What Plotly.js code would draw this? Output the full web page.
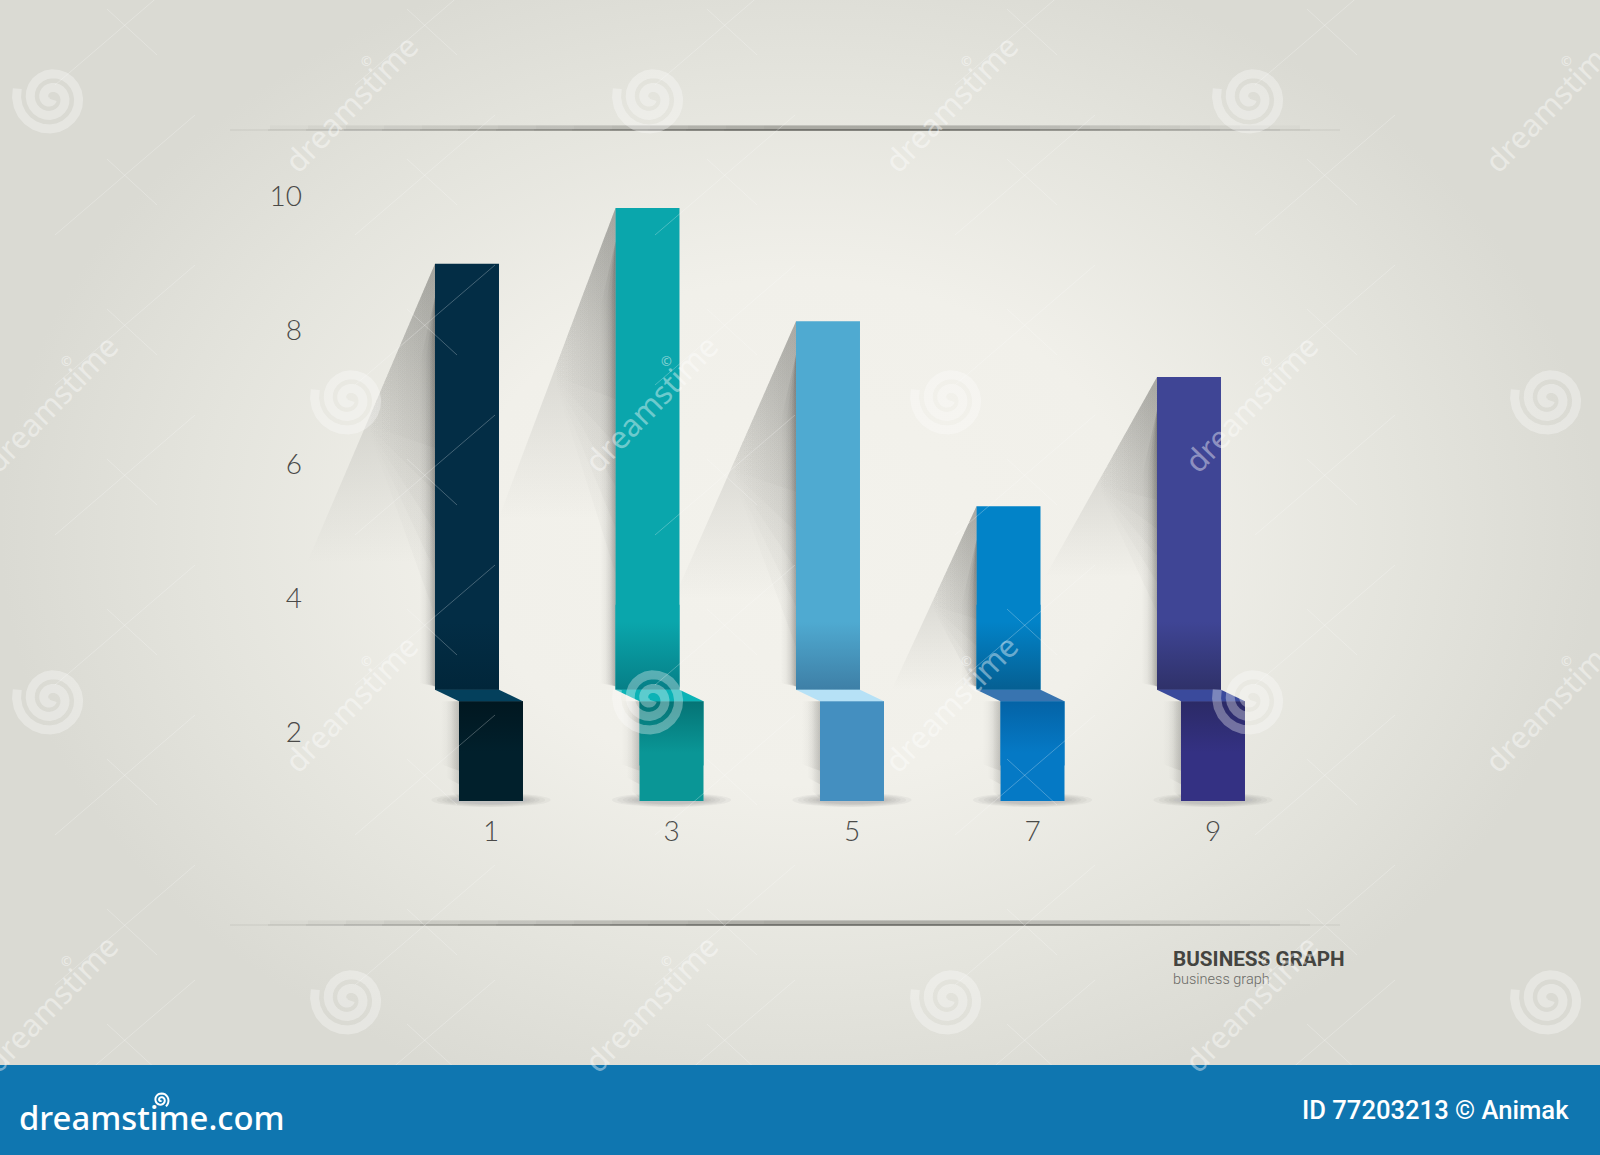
<!DOCTYPE html>
<html><head><meta charset="utf-8">
<script src="https://cdn.plot.ly/plotly-3.0.1.min.js"></script>
<style>
html,body{margin:0;padding:0;width:1600px;height:1155px;overflow:hidden;
background:#dbdbd4 radial-gradient(ellipse 800px 600px at 50% 46%,#f3f2ec 0%,#f1f0ea 42%,#e4e4dd 75%,#dadad3 100%);}
#chart{width:1600px;height:1155px;}
</style></head><body><div id="chart"></div>
<script>
// ---- chart values ----
const categories   = [1, 3, 5, 7, 9];
const barTops      = [8.99, 9.82, 8.13, 5.37, 7.30];
const foldHigh     = 2.63;   // where the upper strip ends
const foldLow      = 2.46;   // where the lower strip starts
const axisBase     = 0.97;
const xTickLabels  = ['1', '3', '5', '7', '9'];
const yTickValues  = [2, 4, 6, 8, 10];
const shadowReach  = [1.27, 1.16, 1.21, 0.84, 1.11];
const shadowDrop   = [4.00, 4.15, 3.70, 2.45, 2.67];
// ---- colours ----
const upperColors  = ['#032d45', '#0aa6ac', '#4faad1', '#0283c8', '#3f4595'];
const upperDark    = ['#01263a', '#067f87', '#3e7fa6', '#055f92', '#2f3169'];
const foldColors   = ['#04405c', '#0bb3b6', '#b6e1f6', '#3874b0', '#3a4a9c'];
const lowerColors  = ['#01202c', '#0a9696', '#448fc0', '#0579c5', '#343183'];
const lowerDark    = ['#011720', '#057375', '#448fc0', '#0463a6', '#2b2a66'];
const barWidth = 0.709, upperShift = 0.266;

// ---- page geometry ----
const W = 1600, H = 1155;
const fx = p => p / W, fy = p => 1 - p / H;
const plotL = 303, plotR = 1300, plotT = 150, plotB = 801;
const xPer = 90.25, yPer = 67;
const xRange = [1 + (plotL - 491) / xPer, 1 + (plotR - 491) / xPer];
const yRange = [axisBase, axisBase + (plotB - plotT) / yPer];

const traces = [];
const poly = (xs, ys, grad) => traces.push({
  type: 'scatter', mode: 'lines', x: xs, y: ys, fill: 'toself', line: {width: 0},
  fillcolor: grad.flat || 'rgba(0,0,0,0)', fillgradient: grad.flat ? undefined : grad,
  showlegend: false, hoverinfo: 'skip'
});
const vgrad = (a, b, scale) => ({type: 'vertical', start: a, stop: b, colorscale: scale});
const hgrad = (a, b, c0, c1) => ({type: 'horizontal', start: a, stop: b, colorscale: [[0, c0], [1, c1]]});

// upper and lower strips as real bars
traces.push({type: 'bar', x: categories, base: categories.map(() => foldHigh),
  y: barTops.map(v => v - foldHigh), width: barWidth, offset: -barWidth / 2 - upperShift,
  marker: {color: upperColors, line: {width: 0}}, showlegend: false, hoverinfo: 'skip'});
traces.push({type: 'bar', x: categories, base: categories.map(() => axisBase),
  y: categories.map(() => foldLow - axisBase), width: barWidth, offset: -barWidth / 2,
  marker: {color: lowerColors, line: {width: 0}}, showlegend: false, hoverinfo: 'skip'});

categories.forEach((c, i) => {
  const uL = c - barWidth / 2 - upperShift, uR = uL + barWidth;
  const lL = c - barWidth / 2, lR = lL + barWidth;
  const top = barTops[i];
  const reach = shadowReach[i], drop = shadowDrop[i];
  // long cast shadow: fades to nothing at its far tip
  const tipX = uL - reach * 1.12, tipY = top - drop * 1.12;
  poly([uL, tipX, uL, uL], [top, tipY, Math.max(tipY - 0.3, foldHigh), top],
    vgrad(top, tipY, [[0, 'rgba(70,70,66,0.30)'], [0.45, 'rgba(70,70,66,0.15)'], [0.8, 'rgba(70,70,66,0.05)'], [1, 'rgba(70,70,66,0)']]));
  // extra weight close to the strip, with a feathered lower edge
  const midX = uL - reach * 0.6, midY = top - drop * 0.6;
  [0.55, 0.68, 0.8, 0.92, 1.05].forEach(f => {
    const low = Math.max(top - drop * f * 1.25, foldHigh);
    poly([uL, midX, uL, uL], [top, midY, low, top],
      hgrad(midX, uL, 'rgba(60,60,56,0)', 'rgba(60,60,56,0.035)'));
  });
  // soft dark rim beside the strips
  [0.17, 0.11, 0.06].forEach(w =>
    poly([uL - w, uL, uL, uL - w], [top - 1.5, top - 0.5, foldHigh + 0.05, foldHigh + 0.1],
      hgrad(uL - w, uL, 'rgba(40,40,38,0)', 'rgba(40,40,38,0.13)')));
  [[0.2, 0.55], [0.14, 0.35], [0.09, 0.15]].forEach(([w, b]) =>
    poly([lL - w, lL, lL, lL - w], [foldLow, foldLow, axisBase + b - 0.1, axisBase + b],
      hgrad(lL - w, lL, 'rgba(40,40,38,0)', 'rgba(40,40,38,0.09)')));
  // darkening where the strip bends
  poly([uL, uR, uR, uL], [3.9, 3.9, foldHigh, foldHigh],
    vgrad(3.9, foldHigh, [[0, upperColors[i]], [0.2, upperColors[i]], [1, upperDark[i]]]));
  poly([lL, lR, lR, lL], [foldLow, foldLow, 1.5, 1.5],
    vgrad(foldLow, 1.5, [[0, lowerDark[i]], [0.8, lowerColors[i]], [1, lowerColors[i]]]));
  // bend
  poly([uL, uR, lR, lL, uL], [foldHigh, foldHigh, foldLow, foldLow, foldHigh], {flat: foldColors[i]});
});

// ---- decoration ----
const shapes = [];
// ground shadows
categories.forEach(c => {
  [[0.66, 7], [0.6, 6.4], [0.54, 5.6], [0.49, 5], [0.44, 4.2], [0.4, 3.5]].forEach(([dx, dy]) =>
    shapes.push({type: 'circle', layer: 'below', xref: 'x', yref: 'paper', x0: c - dx, x1: c + dx,
      y0: fy(800 + dy), y1: fy(800 - dy), fillcolor: '#55554f', opacity: 0.05, line: {width: 0}}));
});
// lighter panel between the two creases
for (let k = 0; k < 8; k++) {
  shapes.push({type: 'rect', layer: 'below', xref: 'paper', yref: 'paper',
    x0: fx(120 + k * 55), x1: fx(1480 - k * 50), y0: fy(925), y1: fy(130),
    fillcolor: '#ffffff', opacity: 0.016, line: {width: 0}});
}
// creases: many faint stacked strokes so they taper to nothing at both ends
[130, 925].forEach(y => {
  for (let k = 0; k < 14; k++) {
    const a = 230 + k * 38, b = 1340 - k * 30;
    shapes.push({type: 'line', layer: 'below', xref: 'paper', yref: 'paper', x0: fx(a), x1: fx(b),
      y0: fy(y), y1: fy(y), opacity: 0.07, line: {color: '#3d3d38', width: 1.5}});
    shapes.push({type: 'line', layer: 'below', xref: 'paper', yref: 'paper', x0: fx(a + 40), x1: fx(b - 40),
      y0: fy(y - 2.5), y1: fy(y - 2.5), opacity: 0.025, line: {color: '#3d3d38', width: 4}});
  }
});
// faint crossing watermark lines
const crossX = [125, 425, 725, 1025, 1325], crossY = [25, 175, 325, 475, 625, 775, 925, 1040];
crossX.forEach(x => crossY.forEach(y => {
  shapes.push({type: 'line', layer: 'above', xref: 'paper', yref: 'paper', x0: fx(x - 70), x1: fx(x + 70),
    y0: fy(y + 60), y1: fy(y - 60), opacity: .26, line: {color: '#ffffff', width: 1}});
  shapes.push({type: 'line', layer: 'above', xref: 'paper', yref: 'paper', x0: fx(x - 18), x1: fx(x + 32),
    y0: fy(y - 16), y1: fy(y + 30), opacity: .26, line: {color: '#ffffff', width: 1}});
}));
// footer
shapes.push({type: 'rect', layer: 'above', xref: 'paper', yref: 'paper', x0: 0, x1: 1, y0: 0, y1: fy(1065),
  fillcolor: '#0f76b0', line: {width: 0}});
// spiral logo
function spiral(cx, cy, R, turns, lw, op) {
  let d = '';
  const n = Math.round(turns * 24);
  for (let k = 0; k <= n; k++) {
    const t = k / n, a = 0.9 + t * turns * 2 * Math.PI, r = R * (0.06 + 0.94 * t);
    d += (k ? 'L' : 'M') + fx(cx + r * Math.cos(a)).toFixed(5) + ' ' + fy(cy + r * Math.sin(a)).toFixed(5) + ' ';
  }
  return {type: 'path', layer: 'above', xref: 'paper', yref: 'paper', path: d, opacity: op,
    line: {color: '#ffffff', width: lw}, fillcolor: 'rgba(0,0,0,0)'};
}
const spiralA = [[51, 98], [651, 98], [1251, 98], [51, 699], [651, 699], [1251, 699]];
const spiralB = [[349, 399], [949, 399], [1549, 399], [349, 999], [949, 999], [1549, 999]];
spiralA.concat(spiralB).forEach(([x, y]) => shapes.push(spiral(x, y, 35, 2.4, 9, .33)));
shapes.push(spiral(161, 1100, 8, 2.0, 2, 1));

const txt = (x, y, text, size, color, extra) => Object.assign({xref: 'paper', yref: 'paper', x: fx(x), y: fy(y),
  text, showarrow: false, xanchor: 'left', yanchor: 'middle', font: {family: 'Roboto', size, color}}, extra || {});
const annotations = [
  txt(1170.5, 958.5, '<b>BUSINESS GRAPH</b>', 20.7, '#444440'),
  txt(1170.5, 979, 'business graph', 14.5, '#6a6a66', {font: {family: 'Roboto', size: 14.5, color: '#6a6a66', weight: 300}}),
  txt(1300, 1110, 'ID 77203213 © Animak', 25.6, '#ffffff', {font: {family: 'Roboto', size: 25.6, color: '#ffffff', weight: 500}}),
  txt(17, 1117, 'dreamstime.com', 32.8, '#ffffff', {font: {family: 'Noto Sans', size: 32.8, color: '#ffffff', weight: 500}})
];
const markA = [[351, 103], [951, 103], [1551, 103], [351, 703], [951, 703], [1551, 703]];
const markB = [[51, 403], [651, 403], [1251, 403], [51, 1003], [651, 1003], [1251, 1003]];
markA.concat(markB).forEach(([x, y]) => {
  annotations.push({xref: 'paper', yref: 'paper', x: fx(x), y: fy(y), text: 'dreamstime', textangle: -46,
    xanchor: 'center', yanchor: 'middle', showarrow: false, font: {family: 'Noto Sans', size: 31, color: 'rgba(255,255,255,0.42)'}});
  annotations.push({xref: 'paper', yref: 'paper', x: fx(x + 15), y: fy(y - 42), text: '©', showarrow: false,
    xanchor: 'center', yanchor: 'middle', font: {family: 'Noto Sans', size: 13, color: 'rgba(255,255,255,0.5)'}});
});

const tickFont = {family: 'Lato', size: 28, color: '#4a4a48', weight: 300};
Plotly.newPlot('chart', traces, {
  width: W, height: H, margin: {l: 0, r: 0, t: 0, b: 0}, autosize: false,
  paper_bgcolor: 'rgba(0,0,0,0)', plot_bgcolor: 'rgba(0,0,0,0)', showlegend: false, barmode: 'overlay',
  xaxis: {domain: [fx(plotL), fx(plotR)], range: xRange, tickmode: 'array', tickvals: categories, ticktext: xTickLabels,
    showgrid: false, zeroline: false, showline: false, ticks: '', tickfont: tickFont, ticklabelstandoff: 11, automargin: false},
  yaxis: {domain: [fy(plotB), fy(plotT)], range: yRange, tickmode: 'array', tickvals: yTickValues,
    showgrid: false, zeroline: false, showline: false, ticks: '', tickfont: tickFont, automargin: false},
  shapes, annotations
}, {displayModeBar: false, staticPlot: true});
</script></body></html>
